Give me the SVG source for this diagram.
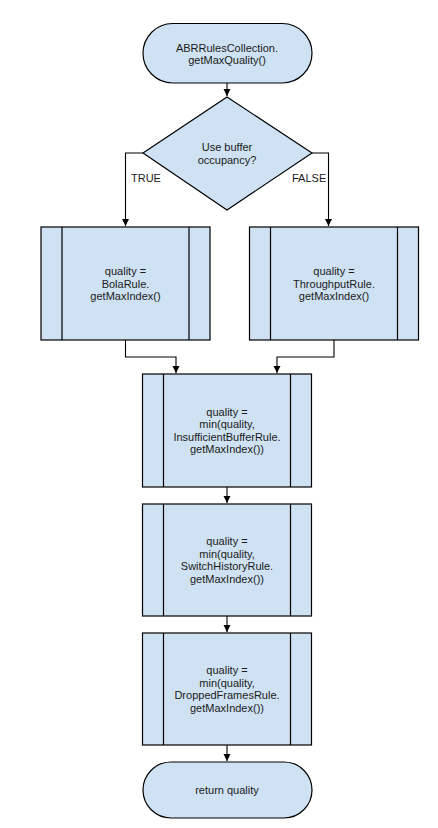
<svg xmlns="http://www.w3.org/2000/svg" width="438" height="828" viewBox="0 0 438 828">
<style>
.shape{fill:#cfe2f3;stroke:#000;stroke-width:1.2}
.div{fill:none;stroke:#000;stroke-width:1.2}
.t{font-family:"Liberation Sans",Arial,sans-serif;font-size:11px;fill:#1a1a1a;text-anchor:middle}
.lbl{font-family:"Liberation Sans",Arial,sans-serif;font-size:11px;fill:#1a1a1a}
.c{fill:none;stroke:#000;stroke-width:1.1}
</style>
<defs>
<marker id="ah" markerUnits="userSpaceOnUse" markerWidth="8" markerHeight="8" refX="7" refY="3.5" orient="auto">
<path d="M0,0 L7,3.5 L0,7 z" fill="#000"/>
</marker>
</defs>
<rect width="438" height="828" fill="#fff"/>
<g id="connectors">
<path class="c" d="M227,83 V96" marker-end="url(#ah)"/>
<path class="c" d="M143,153 H125.5 V226" marker-end="url(#ah)"/>
<path class="c" d="M312,153 H328.5 V226" marker-end="url(#ah)"/>
<path class="c" d="M125.5,340 V357 H176 V373" marker-end="url(#ah)"/>
<path class="c" d="M334,340 V357 H277 V373" marker-end="url(#ah)"/>
<path class="c" d="M227,487 V503" marker-end="url(#ah)"/>
<path class="c" d="M227,616 V632" marker-end="url(#ah)"/>
<path class="c" d="M227,745 V761" marker-end="url(#ah)"/>
<text class="lbl" x="131" y="182">TRUE</text>
<text class="lbl" x="292" y="182">FALSE</text>
</g>
<g id="start">
<rect class="shape" x="143" y="23.5" width="169" height="59.5" rx="29.75"/>
<text class="t" x="227" y="51.5">ABRRulesCollection.</text>
<text class="t" x="227" y="64">getMaxQuality()</text>
</g>
<g id="decision">
<polygon class="shape" points="227,97 312,153 227,210 143,153"/>
<text class="t" x="227" y="150.5">Use buffer</text>
<text class="t" x="227" y="163.5">occupancy?</text>
</g>
<g id="bola">
<rect class="shape" x="41" y="227" width="169" height="113"/>
<path class="div" d="M62,227 V340 M189,227 V340"/>
<text class="t" x="125.5" y="275">quality =</text>
<text class="t" x="125.5" y="287.5">BolaRule.</text>
<text class="t" x="125.5" y="300">getMaxIndex()</text>
</g>
<g id="throughput">
<rect class="shape" x="249.5" y="227" width="169" height="113"/>
<path class="div" d="M270.5,227 V340 M397.5,227 V340"/>
<text class="t" x="334" y="275">quality =</text>
<text class="t" x="334" y="287.5">ThroughputRule.</text>
<text class="t" x="334" y="300">getMaxIndex()</text>
</g>
<g id="insufficient">
<rect class="shape" x="142.5" y="374" width="169" height="113"/>
<path class="div" d="M163.5,374 V487 M290.5,374 V487"/>
<text class="t" x="227" y="415.6">quality =</text>
<text class="t" x="227" y="428.2">min(quality,</text>
<text class="t" x="227" y="440.8">InsufficientBufferRule.</text>
<text class="t" x="227" y="453.4">getMaxIndex())</text>
</g>
<g id="switchhistory">
<rect class="shape" x="142.5" y="504" width="169" height="112"/>
<path class="div" d="M163.5,504 V616 M290.5,504 V616"/>
<text class="t" x="227" y="545.1">quality =</text>
<text class="t" x="227" y="557.7">min(quality,</text>
<text class="t" x="227" y="570.3">SwitchHistoryRule.</text>
<text class="t" x="227" y="582.9">getMaxIndex())</text>
</g>
<g id="droppedframes">
<rect class="shape" x="142.5" y="633" width="169" height="112"/>
<path class="div" d="M163.5,633 V745 M290.5,633 V745"/>
<text class="t" x="227" y="674.1">quality =</text>
<text class="t" x="227" y="686.7">min(quality,</text>
<text class="t" x="227" y="699.3">DroppedFramesRule.</text>
<text class="t" x="227" y="711.9">getMaxIndex())</text>
</g>
<g id="end">
<rect class="shape" x="143" y="762" width="169" height="56" rx="28"/>
<text class="t" x="227" y="794">return quality</text>
</g>
</svg>
